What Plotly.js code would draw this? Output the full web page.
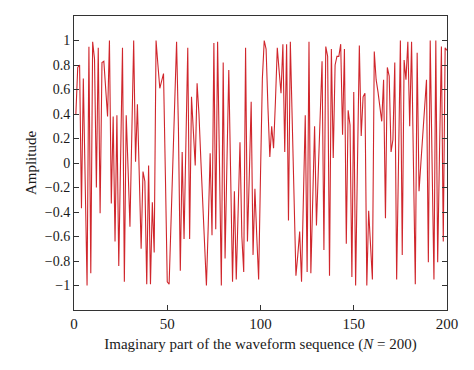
<!DOCTYPE html>
<html>
<head>
<meta charset="utf-8">
<script src="https://cdn.plot.ly/plotly-3.0.1.min.js"></script>
<style>html,body{margin:0;padding:0;background:#fff;}#chart{width:474px;height:370px;}</style>
</head>
<body>
<div id="chart"></div>
<script>
const sampleIndex = Array.from({length: 200}, (_, i) => i + 1);
const amplitude = [
  0.40, 0.78, 0.80, -0.37, 0.69, -0.15, -1.00, 0.95, -0.90, 0.99,
  0.85, -0.20, 0.94, -0.41, 0.82, 0.83, 0.60, 0.38, 1.00, -0.33,
  0.38, -0.64, 0.39, -0.84, 0.05, 0.94, -0.97, 0.39, -0.05, -0.52,
  0.24, 1.00, 0.01, 0.48, -0.10, -0.70, -0.07, -0.15, -0.99, -0.02,
  -0.99, -0.32, -0.73, 1.00, 0.80, 0.61, 0.67, 0.73, -0.10, -0.97,
  -0.99, -0.50, 0.00, 0.50, 0.99, 0.28, -0.88, 0.09, -0.62, 0.16,
  0.94, -0.62, 0.54, 0.26, -0.02, 0.65, 0.40, 0.03, -0.35, -0.70,
  -1.00, -0.50, 0.08, -0.59, 0.98, -0.54, 0.99, 0.00, -1.00, 0.82,
  -0.78, 0.00, 0.76, -0.10, -0.97, -0.23, -0.95, -0.40, 0.17, -0.60,
  -0.89, 0.94, -0.64, -0.10, 0.50, -0.75, -0.21, -0.60, -0.95, -0.10,
  0.69, 1.00, 0.93, 0.45, 0.05, 0.30, 0.12, 0.50, 0.94, 0.75,
  0.57, 0.97, 0.09, 0.97, -0.47, 0.99, 0.40, -0.25, -0.92, -0.75,
  -0.56, -0.97, -0.30, 0.39, -0.89, 0.99, -0.90, -0.30, 0.30, -0.51,
  -0.07, 0.40, 0.83, -0.71, 0.95, 0.87, -0.92, 0.93, 0.04, 0.80,
  0.87, 0.87, 0.97, 0.23, 0.93, -0.66, 0.43, 0.31, -0.93, 0.58,
  -1.00, 0.00, 0.96, 0.22, 0.54, 0.57, -1.00, -0.39, -0.65, -0.95,
  0.91, 0.68, 0.58, 0.48, 0.34, 0.68, -0.45, 0.78, 0.71, 0.09,
  0.19, 0.82, -0.95, 0.00, 1.00, -0.75, 0.84, 0.68, 0.99, 0.30,
  0.99, 0.00, -0.99, 0.90, -0.23, 0.00, 0.22, 0.45, 0.68, -0.81,
  1.00, 0.00, -0.95, 1.00, -0.81, 0.10, 0.95, -0.64, 0.94, 0.92
];
const xTickVals = [0, 50, 100, 150, 200];
const yTickVals = [-1, -0.8, -0.6, -0.4, -0.2, 0, 0.2, 0.4, 0.6, 0.8, 1];

const fontFam = '"Liberation Serif", "DejaVu Serif", serif';
const trace = {
  x: sampleIndex, y: amplitude, type: 'scatter', mode: 'lines',
  line: {color: '#d0262c', width: 1.1}, hoverinfo: 'skip'
};
const layout = {
  width: 474, height: 370,
  margin: {l: 74, r: 27, t: 16, b: 60},
  paper_bgcolor: '#fff', plot_bgcolor: '#fff',
  showlegend: false,
  font: {family: fontFam, size: 14, color: '#1a1a1a'},
  xaxis: {
    range: [0, 200], tickvals: xTickVals, ticktext: xTickVals.map(String),
    ticks: 'inside', ticklen: 5, tickwidth: 1, tickcolor: '#333',
    showline: true, linecolor: '#333', linewidth: 1, mirror: true,
    showgrid: false, zeroline: false,
    tickfont: {family: fontFam, size: 15, color: '#1a1a1a'},
    title: {text: 'Imaginary part of the waveform sequence (<i>N</i> = 200)', font: {family: fontFam, size: 15, color: '#1a1a1a'}, standoff: 7}
  },
  yaxis: {
    range: [-1.2, 1.2], tickvals: yTickVals,
    ticks: 'inside', ticklen: 5, tickwidth: 1, tickcolor: '#333',
    showline: true, linecolor: '#333', linewidth: 1, mirror: 'ticks',
    showgrid: false, zeroline: false,
    tickfont: {family: fontFam, size: 14, color: '#1a1a1a'},
    title: {text: 'Amplitude', font: {family: fontFam, size: 15, color: '#1a1a1a'}, standoff: 4}
  }
};
Plotly.newPlot('chart', [trace], layout, {displayModeBar: false, staticPlot: true});
</script>
</body>
</html>
